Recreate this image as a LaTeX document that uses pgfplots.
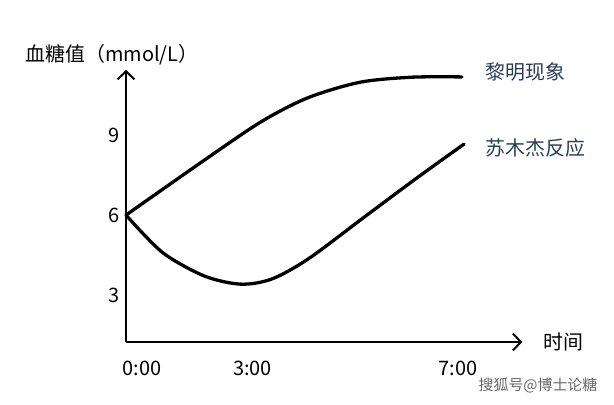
\documentclass[border=0pt]{standalone}
\usepackage{pgfplots}
\pgfplotsset{compat=1.18}
\usepackage{fontspec}
\setmainfont{Noto Sans CJK SC}
\usetikzlibrary{arrows.meta}
\definecolor{labelblue}{RGB}{40,62,85}
\begin{document}
\begin{tikzpicture}[font=\fontsize{20}{23}\selectfont]
\begin{axis}[
  at={(126bp,63bp)}, anchor=south west,
  x=52bp, y=26.667bp,
  xmin=0, xmax=7.62, ymin=1.24, ymax=11.44,
  axis lines=left,
  axis line style={line width=2bp, -{Straight Barb[length=8bp,width=17bp,line width=2bp]}},
  major tick length=0pt,
  xtick={0.31,2.43,6.38}, xticklabels={0:00,3:00,7:00},
  ytick={3,6,9},
  /pgf/number format/assume math mode=true,
  xticklabel style={yshift=-16bp},
  yticklabel style={xshift=-3bp},
  clip=false,
]
\addplot[smooth, line width=3.3bp, black, line cap=round, line join=round] coordinates {
(0,6.0) (1.5,8.05) (2.6,9.5) (3.5,10.4) (4.5,10.98) (5.5,11.17) (6.46,11.18)
};
\addplot[smooth, line width=3.3bp, black, line cap=round, line join=round] coordinates {
(0,6.0) (0.7,4.6) (1.5,3.72) (2.2,3.41) (2.8,3.6) (3.5,4.35) (4.6,5.95) (5.6,7.4) (6.5,8.66)
};
\end{axis}
\node at (112bp,350bp) {血糖值（mmol/L）};
\node[anchor=west, text=labelblue] at (482bp,333bp) {黎明现象};
\node[anchor=west, text=labelblue] at (482bp,257bp) {苏木杰反应};
\node[anchor=west] at (540bp,63bp) {时间};
\node[font=\fontsize{15}{18}\selectfont, text=gray!80!black] at (538bp,20bp) {搜狐号@博士论糖};
\pgfresetboundingbox
\path[use as bounding box] (0,0) rectangle (614bp,405bp);
\end{tikzpicture}
\end{document}
